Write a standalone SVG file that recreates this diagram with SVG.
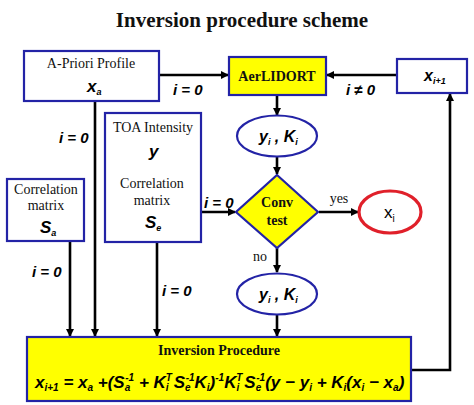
<svg xmlns="http://www.w3.org/2000/svg" width="474" height="405" viewBox="0 0 474 405">
<defs>
<marker id="ah" markerWidth="8" markerHeight="8" refX="7" refY="4" orient="auto" markerUnits="userSpaceOnUse">
<path d="M0,0 L8,4 L0,8 Z" fill="#000"/>
</marker>
<style>
.box{fill:#fff;stroke:#2323a6;stroke-width:2.2}
.ybox{fill:#ffff00;stroke:#2323a6;stroke-width:2.2}
.ell{fill:#fff;stroke:#2323a6;stroke-width:2.2}
.red{fill:#fff;stroke:#e0202a;stroke-width:3.2}
.ln{fill:none;stroke:#000;stroke-width:2.6}
.ser{font-family:"Liberation Serif","DejaVu Serif",serif;font-size:14px;fill:#111;text-anchor:middle}
.serb{font-family:"Liberation Serif","DejaVu Serif",serif;font-size:14px;font-weight:bold;fill:#111;text-anchor:middle}
.m{font-family:"Liberation Sans","DejaVu Sans",sans-serif;font-weight:bold;font-style:italic;fill:#000}
.lab{font-family:"Liberation Sans","DejaVu Sans",sans-serif;font-weight:bold;font-style:italic;font-size:15px;fill:#000}
.s{font-size:9px}
.s2{font-size:10px}
</style>
</defs>
<text x="242" y="27" font-family="'Liberation Serif','DejaVu Serif',serif" font-size="21" font-weight="bold" text-anchor="middle" fill="#111">Inversion procedure scheme</text>

<g id="connectors">
<line class="ln" x1="159" y1="75" x2="228" y2="75" marker-end="url(#ah)"/>
<line class="ln" x1="397" y1="75" x2="327" y2="75" marker-end="url(#ah)"/>
<line class="ln" x1="277" y1="95" x2="277" y2="115" marker-end="url(#ah)"/>
<line class="ln" x1="277" y1="157" x2="277" y2="174" marker-end="url(#ah)"/>
<line class="ln" x1="201" y1="212" x2="235" y2="212" marker-end="url(#ah)"/>
<line class="ln" x1="319" y1="212" x2="358" y2="212" marker-end="url(#ah)"/>
<line class="ln" x1="277" y1="248" x2="277" y2="272" marker-end="url(#ah)"/>
<line class="ln" x1="277" y1="315" x2="277" y2="336" marker-end="url(#ah)"/>
<line class="ln" x1="95" y1="101" x2="95" y2="336" marker-end="url(#ah)"/>
<line class="ln" x1="70" y1="241" x2="70" y2="336" marker-end="url(#ah)"/>
<line class="ln" x1="157" y1="242" x2="157" y2="336" marker-end="url(#ah)"/>
<polyline class="ln" points="411,370 450,370 450,94" marker-end="url(#ah)"/>
<text class="lab" x="173" y="95">i = 0</text>
<text class="lab" x="346" y="95">i ≠ 0</text>
<text class="lab" x="59" y="143">i = 0</text>
<text class="lab" x="204" y="208">i = 0</text>
<text class="lab" x="32" y="277">i = 0</text>
<text class="lab" x="162" y="296">i = 0</text>
<text class="ser" x="339" y="203">yes</text>
<text class="ser" x="260" y="261">no</text>
</g>

<g id="apriori">
<rect class="box" x="24" y="51" width="135" height="50"/>
<text class="ser" x="91" y="68">A-Priori Profile</text>
<text class="m" x="87" y="92" font-size="17">x<tspan class="s" dy="3">a</tspan></text>
</g>

<g id="aerlidort">
<rect class="ybox" x="229" y="57" width="97" height="38"/>
<text class="serb" x="277" y="81">AerLIDORT</text>
</g>

<g id="xnext">
<rect class="box" x="397" y="59" width="70" height="34"/>
<text class="m" x="424" y="81" font-size="16">x<tspan class="s" dy="3">i+1</tspan></text>
</g>

<g id="toa">
<rect class="box" x="105" y="113" width="96" height="129"/>
<text class="ser" x="153" y="132">TOA Intensity</text>
<text class="m" x="149" y="157" font-size="17">y</text>
<text class="ser" x="152" y="188">Correlation</text>
<text class="ser" x="152" y="205">matrix</text>
<text class="m" x="145" y="228" font-size="17">S<tspan class="s" dy="3">e</tspan></text>
</g>

<g id="corr">
<rect class="box" x="7" y="179" width="77" height="62"/>
<text class="ser" x="46" y="194">Correlation</text>
<text class="ser" x="46" y="210">matrix</text>
<text class="m" x="40" y="233" font-size="17">S<tspan class="s" dy="3">a</tspan></text>
</g>

<g id="yk1">
<ellipse class="ell" cx="277" cy="136" rx="40" ry="20.5"/>
<text class="m" x="259" y="142" font-size="16">y<tspan class="s" dy="3">i</tspan><tspan dy="-3"> , K</tspan><tspan class="s" dy="3">i</tspan></text>
</g>

<g id="conv">
<polygon class="ybox" points="277,175 318,212 277,248 236,212"/>
<text class="serb" x="277" y="207">Conv</text>
<text class="serb" x="277" y="225">test</text>
</g>

<g id="xi">
<ellipse class="red" cx="390" cy="212" rx="31" ry="21"/>
<text x="384" y="218" font-family="'Liberation Sans','DejaVu Sans',sans-serif" font-size="17" fill="#000">x<tspan font-size="10" dy="4">i</tspan></text>
</g>

<g id="yk2">
<ellipse class="ell" cx="277" cy="294" rx="40" ry="20.5"/>
<text class="m" x="259" y="300" font-size="16">y<tspan class="s" dy="3">i</tspan><tspan dy="-3"> , K</tspan><tspan class="s" dy="3">i</tspan></text>
</g>

<g id="inversion">
<rect class="ybox" x="27" y="337" width="384" height="64"/>
<text class="serb" x="219" y="355">Inversion Procedure</text>
<text class="m" x="35" y="388" font-size="17">x<tspan class="s2" dy="3">i+1</tspan><tspan dy="-3"> = x</tspan><tspan class="s2" dy="3">a</tspan><tspan dy="-3"> +(S</tspan><tspan class="s2" dy="3">a</tspan><tspan class="s2" dx="-5" dy="-10">-1</tspan><tspan dy="7"> + K</tspan><tspan class="s2" dy="3">i</tspan><tspan class="s2" dx="-3" dy="-10">T</tspan><tspan dx="2" dy="7">S</tspan><tspan class="s2" dy="3">e</tspan><tspan class="s2" dx="-5" dy="-10">-1</tspan><tspan dy="7">K</tspan><tspan class="s2" dy="3">i</tspan><tspan dy="-3">)</tspan><tspan class="s2" dy="-7">-1</tspan><tspan dy="7">K</tspan><tspan class="s2" dy="3">i</tspan><tspan class="s2" dx="-3" dy="-10">T</tspan><tspan dx="2" dy="7">S</tspan><tspan class="s2" dy="3">e</tspan><tspan class="s2" dx="-5" dy="-10">-1</tspan><tspan dy="7">(y − y</tspan><tspan class="s2" dy="3">i</tspan><tspan dy="-3"> + K</tspan><tspan class="s2" dy="3">i</tspan><tspan dy="-3">(x</tspan><tspan class="s2" dy="3">i</tspan><tspan dy="-3"> − x</tspan><tspan class="s2" dy="3">a</tspan><tspan dy="-3">)</tspan></text>
</g>
</svg>
